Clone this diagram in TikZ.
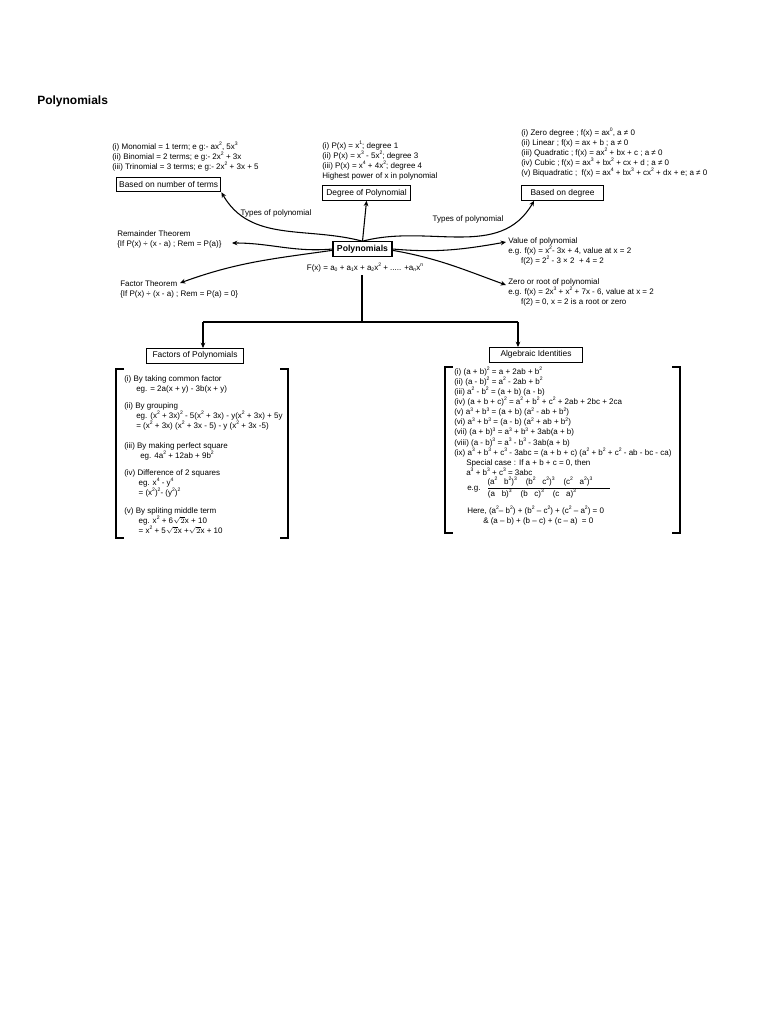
\documentclass[tikz,border=0pt]{standalone}
\usepackage{fontspec}
\setmainfont{Liberation Sans}
\usetikzlibrary{arrows.meta}
\newcommand{\pw}[1]{\smash{\raisebox{0.45em}{\fontsize{3.8}{4}\selectfont #1}}}
\newcommand{\sbs}[1]{\smash{\raisebox{-0.15em}{\fontsize{3.8}{4}\selectfont #1}}}
\newcommand{\rtt}{\smash{$\scriptstyle\sqrt{2}$}}
\begin{document}
\begin{tikzpicture}[x=0.75pt,y=-0.75pt,
  txt/.style={inner sep=0pt,anchor=north west,align=left,font=\fontsize{6}{7.6}\selectfont},
  bx/.style={draw,line width=0.8pt,inner sep=2pt,font=\fontsize{6.3}{7.6}\selectfont,minimum height=14.5*0.75pt},
  arr/.style={-{Stealth[length=4pt,width=3.5pt]},line width=0.8pt},
  brk/.style={line width=1pt}]
\useasboundingbox (0,0) rectangle (768,1024);
\node[anchor=west,inner sep=0pt,font=\fontsize{9}{10}\selectfont\bfseries] (title) at (37,101) {Polynomials};
% top blocks
\node[txt] (l1) at (112,143) {(i) Monomial = 1 term; e g:- ax\pw2, 5x\pw3\\(ii) Binomial = 2 terms; e g:- 2x\pw2 + 3x\\(iii) Trinomial = 3 terms; e g:- 2x\pw2 + 3x + 5};
\node[bx,anchor=west,minimum width=104*0.75pt] (b1) at (116,184.5) {Based on number of terms};
\node[txt] (l2) at (322,142) {(i) P(x) = x\pw1; degree 1\\(ii) P(x) = x\pw3 - 5x\pw2; degree 3\\(iii) P(x) = x\pw4 + 4x\pw2; degree 4\\Highest power of x in polynomial};
\node[bx,anchor=west,minimum width=88*0.75pt] (b2) at (322,193) {Degree of Polynomial};
\node[txt] (l3) at (521,129) {(i) Zero degree ; f(x) = ax\pw0, a ≠ 0\\(ii) Linear ; f(x) = ax + b ; a ≠ 0\\(iii) Quadratic ; f(x) = ax\pw2 + bx + c ; a ≠ 0\\(iv) Cubic ; f(x) = ax\pw3 + bx\pw2 + cx + d ; a ≠ 0\\(v) Biquadratic ;\ \ f(x) = ax\pw4 + bx\pw3 + cx\pw2 + dx + e; a ≠ 0};
\node[bx,anchor=west,minimum width=82*0.75pt] (b3) at (521,193) {Based on degree};
% center
\node[bx,font=\fontsize{6.5}{7.6}\selectfont\bfseries,minimum width=59*0.75pt] (poly) at (362.5,249) {Polynomials};
\node[txt,anchor=center] (fx) at (365,268) {F(x) = a\sbs0 + a\sbs1x + a\sbs2x\pw2 + ..... +a\sbs{n}x\pw{n}};
\node[txt,anchor=center] (t1) at (276,213) {Types of polynomial};
\node[txt,anchor=center] (t2) at (468,219) {Types of polynomial};
\node[txt] (rem) at (117,230) {Remainder Theorem\\\{If P(x) ÷ (x - a) ; Rem = P(a)\}};
\node[txt] (fac) at (120,280) {Factor Theorem\\\{If P(x) ÷ (x - a) ; Rem = P(a) = 0\}};
\node[txt] (val) at (508,237) {Value of polynomial\\e.g. f(x) = x\pw2- 3x + 4, value at x = 2\\\hspace{1.6em}f(2) = 2\pw2 - 3 × 2\ \ + 4 = 2};
\node[txt] (zer) at (508,278) {Zero or root of polynomial\\e.g. f(x) = 2x\pw3 + x\pw2 + 7x - 6, value at x = 2\\\hspace{1.6em}f(2) = 0, x = 2 is a root or zero};
\coordinate (rt) at (232,243);
\coordinate (ft) at (180,283);
\coordinate (vt) at (506,242);
\coordinate (zt) at (506,285);
\draw[arr] (poly.north) to[out=165,in=-60] (b1.south east);
\draw[arr] (poly.north) -- (b2.south);
\draw[arr] (poly.north) to[out=15,in=-120] ([xshift=-70*0.75pt]b3.south east);
\draw[arr] (poly.west) to[out=185,in=0] (rt);
\draw[arr] ([yshift=-1pt]poly.west) to[out=188,in=20] (ft);
\draw[arr] (poly.east) to[out=-5,in=190] (vt);
\draw[arr] ([yshift=-1pt]poly.east) to[out=-10,in=160] (zt);
% bottom connectors
\coordinate (j1) at (362,322);
\coordinate (j2) at (203,322);
\coordinate (j3) at (518,322);
\draw[line width=1pt] (362,275) -- (j1);
\draw[line width=1pt] (j2) -- (j3);
\node[bx,anchor=north,minimum width=97*0.75pt] (fb) at (195,348) {Factors of Polynomials};
\node[bx,anchor=north,minimum width=93*0.75pt] (ab) at (536,347) {Algebraic Identities};
\draw[arr] (j2) -- (j2|-fb.north);
\draw[arr] (j3) -- (j3|-ab.north);
% brackets
\draw[brk] (124,369) -- (116,369) -- (116,538) -- (124,538);
\draw[brk] (280,369) -- (288,369) -- (288,538) -- (280,538);
\draw[brk] (453,367) -- (445,367) -- (445,533) -- (453,533);
\draw[brk] (672,367) -- (680,367) -- (680,533) -- (672,533);
% factors text
\node[txt] (f1) at (124,375) {(i) By taking common factor\\\hspace{1.5em}eg. = 2a(x + y) - 3b(x + y)};
\node[txt] (f2) at (124,402) {(ii) By grouping\\\hspace{1.5em}eg. (x\pw2 + 3x)\pw2 - 5(x\pw2 + 3x) - y(x\pw2 + 3x) + 5y\\\hspace{1.5em}= (x\pw2 + 3x) (x\pw2 + 3x - 5) - y (x\pw2 + 3x -5)};
\node[txt] (f3) at (124,442) {(iii) By making perfect square\\\hspace{2em}eg. 4a\pw2 + 12ab + 9b\pw2};
\node[txt] (f4) at (124,469) {(iv) Difference of 2 squares\\\hspace{1.8em}eg. x\pw4 - y\pw4\\\hspace{1.8em}= (x\pw2)\pw2- (y\pw2)\pw2};
\node[txt] (f5) at (124,507) {(v) By spliting middle term\\\hspace{1.8em}eg. x\pw2 + 6\rtt x + 10\\\hspace{1.8em}= x\pw2 + 5\rtt x +\rtt x + 10};
% identities
\node[txt,font=\fontsize{6}{7.6}\selectfont] (id) at (454,368) {(i) (a + b)\pw2 = a + 2ab + b\pw2\\(ii) (a - b)\pw2 = a\pw2 - 2ab + b\pw2\\(iii) a\pw2 - b\pw2 = (a + b) (a - b)\\(iv) (a + b + c)\pw2 = a\pw2 + b\pw2 + c\pw2 + 2ab + 2bc + 2ca\\(v) a\pw3 + b\pw3 = (a + b) (a\pw2 - ab + b\pw2)\\(vi) a\pw3 + b\pw3 = (a - b) (a\pw2 + ab + b\pw2)\\(vii) (a + b)\pw3 = a\pw3 + b\pw3 + 3ab(a + b)\\(viii) (a - b)\pw3 = a\pw3 - b\pw3 - 3ab(a + b)\\(ix) a\pw3 + b\pw3 + c\pw3 - 3abc = (a + b + c) (a\pw2 + b\pw2 + c\pw2 - ab - bc - ca)\\\hspace{1.5em}Special case : If a + b + c = 0, then\\\hspace{1.5em}a\pw3 + b\pw3 + c\pw3 = 3abc};
\node[txt,anchor=west] (eg) at (467,489) {e.g.};
\node[txt,anchor=south] (num) at (540,486) {(a\pw2\ \ \ b\pw2)\pw3\ \ \ \ (b\pw2\ \ \ c\pw2)\pw3\ \ \ \ (c\pw2\ \ \ a\pw2)\pw3};
\node[txt,anchor=north] (den) at (532,490) {(a\ \ \ b)\pw3\ \ \ \ (b\ \ \ c)\pw3\ \ \ \ (c\ \ \ a)\pw3};
\draw[line width=0.5pt] (488,488) -- (610,488);
\node[txt] (here) at (467,507) {Here, (a\pw2-- b\pw2) + (b\pw2 -- c\pw2) + (c\pw2 -- a\pw2) = 0\\\hspace{2em}\& (a -- b) + (b -- c) + (c -- a)\ \ = 0};
\end{tikzpicture}
\end{document}
